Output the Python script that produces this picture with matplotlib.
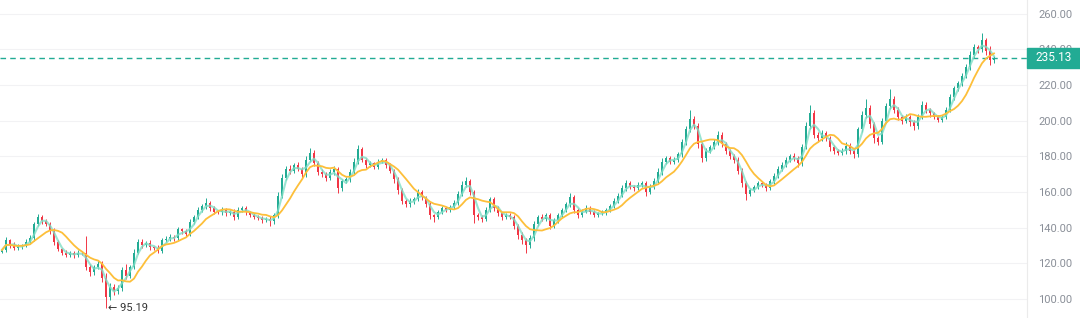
import numpy as np
import pandas as pd
import matplotlib
matplotlib.use('Agg')
import matplotlib.pyplot as plt
from matplotlib.patches import Rectangle
from matplotlib.transforms import blended_transform_factory

# closing prices, one candle per bar
closes = [
    127.5, 133, 130.5, 128.5, 129.5, 130, 132, 134, 142, 146,
    143.5, 142, 138, 132, 128, 126, 124.5, 126, 124.5, 126,
    125.5, 118, 115, 118, 119.5, 112, 101, 107, 104.5, 106,
    116, 113, 118, 126, 132, 130, 131.5, 129, 128.5, 127,
    133, 133.5, 135, 134, 139, 138, 136.5, 143, 146, 150,
    152, 154, 151, 149, 148.5, 150, 148, 149, 146, 150,
    151, 148.5, 147, 146, 145.5, 144, 145, 143.5, 147, 158,
    168, 173, 172, 175, 173, 170, 178, 182, 176, 171,
    170, 168, 171, 173, 162, 166, 167, 171, 177, 184,
    178, 175, 176, 174, 177, 178, 175, 172, 167, 161,
    155, 153, 155, 156, 160, 157, 153, 147, 146, 149,
    151, 150, 151.5, 154, 159, 164, 166, 160, 147, 146,
    145, 150, 156, 151, 148, 146, 147, 146, 141, 136,
    133, 130, 134, 142, 146, 145, 147, 141, 144, 147,
    150, 153, 157, 150, 147, 149, 151, 149, 147, 148,
    148.5, 150, 152, 155, 158, 162, 165, 163, 162, 164,
    165, 160, 163, 166, 171, 177, 179, 177, 178, 181,
    188, 195, 201, 197, 187, 179, 183, 185, 188, 192,
    187, 183, 180, 178, 172, 165, 159, 161, 163, 165,
    164, 162, 166, 169, 173, 175, 178, 180, 179, 176,
    185, 197, 204, 192, 190, 193, 190, 185, 183, 182,
    183, 186, 183, 181, 195, 203, 207, 198, 190, 188,
    200, 208, 212, 206, 202, 200, 202, 199, 197, 202,
    209, 206, 204, 202, 200.5, 202, 206, 213, 218, 221,
    225, 230, 237, 241, 240, 245, 239, 234, 235.13,
]

# upper / lower wick lengths above and below the body
wick_up = [
    1.2, 1.8, 0.9, 1.5, 1.1, 0.8, 1.6, 2.0, 1.4, 1.9,
    1.0, 1.3, 0.9, 1.7, 1.2, 0.8, 1.4, 1.1, 0.9, 1.5,
    1.0, 10.0, 1.8, 1.3, 2.2, 1.6, 2.4, 1.9, 1.4, 2.0,
    1.7, 3.5, 1.2, 2.1, 1.4, 1.6, 1.0, 1.3, 0.9, 1.5,
    1.2, 1.8, 1.4, 1.1, 1.6, 1.0, 1.3, 1.9, 1.2, 1.5,
    1.3, 2.6, 1.0, 1.2, 0.9, 1.4, 1.1, 0.8, 1.2, 1.6,
    1.0, 1.3, 0.9, 1.1, 1.2, 0.8, 1.0, 1.4, 1.2, 1.8,
    2.2, 1.6, 2.0, 1.4, 1.8, 1.2, 2.1, 2.4, 1.5, 1.3,
    1.6, 1.1, 1.8, 1.4, 1.2, 1.5, 1.3, 1.7, 2.0, 2.5,
    1.4, 1.2, 1.6, 1.0, 1.5, 1.3, 1.1, 1.4, 1.0, 1.2,
    1.3, 0.9, 1.4, 1.1, 1.8, 1.2, 1.0, 1.3, 0.9, 1.1,
    1.2, 0.8, 1.1, 1.4, 1.7, 1.9, 2.2, 1.5, 1.2, 1.0,
    1.1, 1.6, 1.4, 1.2, 1.0, 0.9, 1.3, 1.1, 1.0, 1.2,
    1.4, 1.0, 1.6, 1.8, 1.2, 1.5, 1.3, 1.0, 1.2, 1.4,
    1.1, 1.5, 2.4, 1.3, 1.0, 1.2, 1.4, 0.9, 1.1, 1.0,
    1.2, 0.9, 1.3, 1.6, 1.4, 1.8, 1.5, 1.2, 1.0, 1.3,
    1.1, 1.4, 1.2, 1.6, 2.5, 1.8, 1.4, 1.2, 1.6, 1.3,
    1.8, 2.2, 5.0, 1.6, 1.4, 1.2, 1.5, 1.3, 1.7, 2.3,
    1.4, 1.2, 1.0, 1.3, 1.5, 1.2, 1.0, 1.4, 1.1, 1.3,
    1.2, 1.0, 1.4, 1.6, 1.3, 1.5, 1.8, 1.4, 2.0, 1.2,
    1.6, 2.0, 5.0, 1.8, 1.4, 1.9, 1.2, 1.5, 1.1, 1.3,
    1.4, 1.8, 1.2, 1.0, 1.6, 2.2, 5.0, 1.8, 1.4, 1.2,
    1.7, 2.0, 5.5, 1.6, 1.4, 1.2, 1.5, 1.1, 1.3, 1.6,
    2.0, 1.5, 1.2, 1.0, 1.3, 1.1, 1.5, 1.8, 1.6, 1.4,
    1.7, 1.5, 2.0, 1.8, 1.6, 4.0, 1.5, 2.6, 1.2,
]
wick_dn = [
    1.0, 1.4, 1.7, 0.9, 1.2, 1.5, 0.8, 1.1, 1.3, 1.0,
    1.6, 1.2, 1.4, 1.8, 1.0, 1.3, 1.1, 0.9, 1.5, 1.2,
    1.1, 1.6, 2.2, 1.4, 1.2, 2.5, 5.81, 1.6, 2.0, 1.7,
    1.3, 1.9, 1.5, 1.2, 1.0, 1.4, 1.1, 1.6, 1.3, 1.0,
    1.4, 1.2, 0.9, 1.5, 1.1, 1.3, 2.0, 1.0, 1.2, 0.9,
    1.1, 1.4, 1.6, 1.2, 1.0, 1.3, 1.5, 1.1, 1.8, 1.2,
    1.0, 1.3, 1.1, 1.4, 1.2, 1.6, 1.0, 2.5, 1.2, 1.4,
    1.6, 1.3, 1.8, 1.2, 1.5, 2.2, 1.4, 1.1, 1.6, 1.3,
    1.5, 1.8, 1.2, 1.4, 2.6, 1.3, 1.1, 1.5, 1.2, 1.4,
    1.3, 1.6, 1.1, 1.4, 1.2, 1.0, 1.5, 1.3, 1.8, 2.1,
    1.6, 1.4, 1.2, 1.5, 1.1, 1.3, 1.6, 2.0, 2.6, 1.2,
    1.1, 1.3, 1.0, 1.2, 1.4, 1.1, 1.3, 1.6, 4.5, 1.5,
    1.8, 1.2, 1.4, 1.6, 1.3, 1.5, 1.2, 1.4, 1.8, 2.2,
    2.0, 4.0, 1.6, 1.3, 1.2, 1.5, 1.1, 2.0, 1.4, 1.2,
    1.3, 1.1, 1.5, 1.8, 1.6, 1.2, 1.0, 1.4, 1.2, 1.3,
    1.1, 1.4, 1.2, 1.0, 1.3, 1.1, 1.5, 1.4, 1.2, 1.0,
    1.5, 2.0, 1.2, 1.1, 1.4, 1.3, 1.2, 1.6, 1.1, 1.4,
    1.2, 1.5, 1.3, 1.8, 2.5, 2.2, 1.6, 1.4, 1.2, 1.5,
    1.8, 1.6, 1.4, 1.8, 2.0, 2.2, 3.5, 1.5, 1.3, 1.4,
    1.2, 1.6, 1.1, 1.3, 1.2, 1.4, 1.0, 1.3, 1.5, 1.8,
    1.4, 1.2, 1.6, 2.0, 1.8, 1.4, 1.6, 2.0, 1.5, 1.3,
    1.2, 1.5, 1.8, 2.2, 1.4, 1.2, 1.6, 2.0, 2.5, 1.6,
    1.3, 1.5, 1.4, 1.8, 1.6, 2.0, 1.4, 1.8, 2.4, 1.5,
    1.3, 1.6, 1.8, 1.4, 1.5, 1.2, 1.4, 1.3, 1.6, 1.5,
    1.4, 1.2, 1.6, 1.8, 2.2, 1.7, 2.0, 2.6, 1.8,
]
first_open = 126.5
y_ticks = [100, 120, 140, 160, 180, 200, 220, 240, 260]

UP = '#22ab94'
DOWN = '#f23645'

closes = np.array(closes, dtype=float)
opens = np.concatenate([[first_open], closes[:-1]])
highs = np.maximum(opens, closes) + np.array(wick_up)
lows = np.minimum(opens, closes) - np.array(wick_dn)
idx = np.arange(len(closes))
colors = np.where(closes >= opens, UP, DOWN)

# moving averages from the closes
ma_fast = pd.Series(closes).rolling(3, min_periods=1).mean()
ma_slow = pd.Series(closes).rolling(8, min_periods=1).mean()

fig = plt.figure(figsize=(10.8, 3.18), dpi=100)
ax = fig.add_axes([0, 0, 1027 / 1080, 1])

ax.vlines(idx, lows, highs, colors=colors, linewidth=0.7, zorder=2)
ax.bar(idx, np.maximum(np.abs(closes - opens), 0.35), bottom=np.minimum(opens, closes),
       width=0.62, color=colors, linewidth=0, zorder=2)
ax.plot(idx, ma_fast, color='#80dec6', lw=1.5, alpha=0.8, zorder=3)
ax.plot(idx, ma_slow, color='#fdbf3a', lw=1.3, zorder=3)

last = closes[-1]
ax.axhline(last, color=UP, lw=1, dashes=(4, 3), zorder=1)

# last price tag on the axis
trans = blended_transform_factory(ax.transAxes, ax.transData)
ax.add_patch(Rectangle((1.0, last - 5.4), 53 / 1027, 10.8, transform=trans,
                       clip_on=False, color=UP, zorder=5))
ax.text(1 + 26.5 / 1027, last, f'{last:.2f}', transform=trans, ha='center', va='center',
        color='white', fontsize=8.5, family=['Roboto', 'DejaVu Sans'], zorder=6, clip_on=False)

# lowest low marker
i_low = int(np.argmin(lows))
ax.text(i_low + 0.4, lows[i_low], f'\u2190 {lows[i_low]:.2f}', ha='left', va='center',
        fontsize=8, color='#333333', family=['Roboto', 'DejaVu Sans'])

ax.set_xlim(-0.5, 1027 / 4 - 0.5)
ax.set_ylim(89.35, 267.57)
ax.yaxis.tick_right()
ax.set_yticks(y_ticks)
ax.set_yticklabels([f'{t:.2f}' for t in y_ticks], family=['Roboto', 'DejaVu Sans'])
ax.tick_params(axis='y', length=0, pad=8, labelsize=8, labelcolor='#8a8f98')
ax.set_xticks([])
ax.grid(axis='y', color='#f2f2f4', lw=0.8, zorder=0)
for s in ['left', 'top', 'bottom']:
    ax.spines[s].set_visible(False)
ax.spines['right'].set_color('#ebebeb')

fig.savefig('out.png', dpi=100)
